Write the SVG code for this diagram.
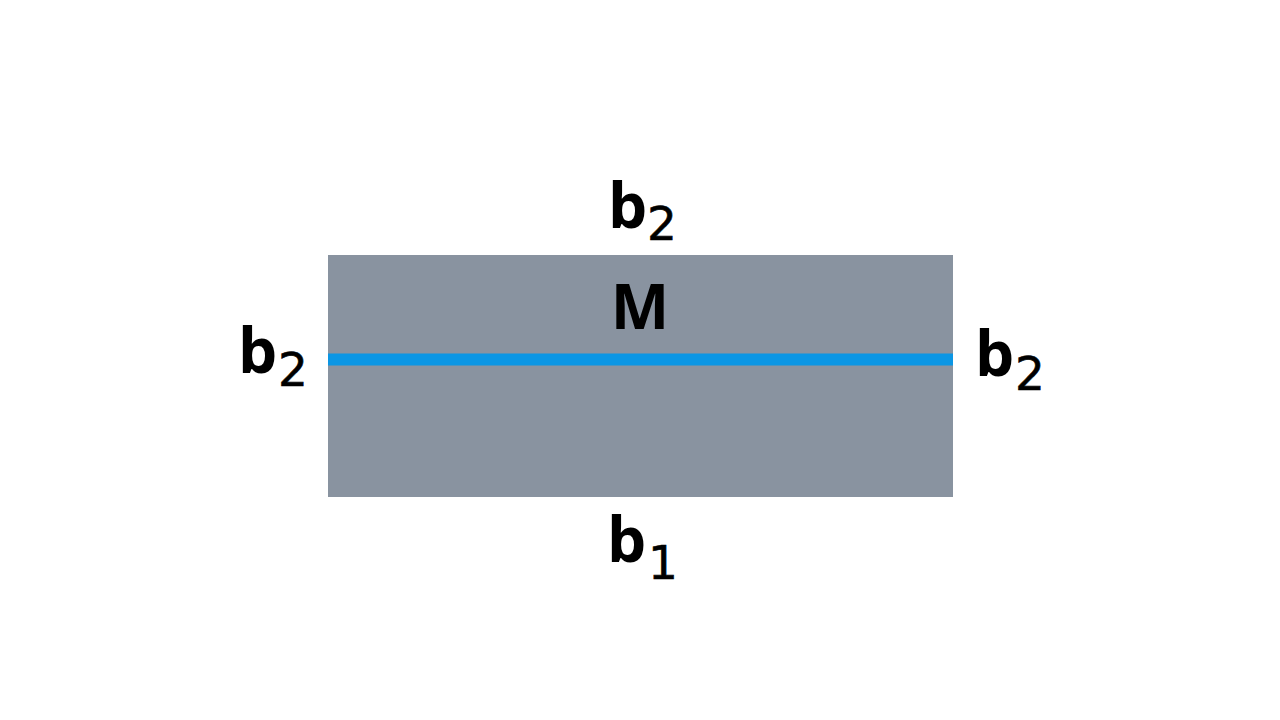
<svg xmlns="http://www.w3.org/2000/svg" width="1280" height="720" viewBox="0 0 1280 720">
<style>
.b{font-family:"Open Sans","DejaVu Sans",sans-serif;font-weight:700;font-size:62px;fill:#000}
.s{font-family:"DejaVu Sans","Open Sans",sans-serif;font-weight:400;font-size:47px;fill:#000;stroke:#000;stroke-width:0.6}
</style>
<rect width="1280" height="720" fill="#fff"/>
<g id="plate">
<rect x="328" y="255" width="625" height="242" fill="#8993a0"/>
<text class="b" x="640" y="329" text-anchor="middle">M</text>
</g>
<g id="connectors">
<line x1="328" y1="359.5" x2="953" y2="359.5" stroke="#0b96e4" stroke-width="12"/>
</g>
<g id="label-top"><text class="b" x="608" y="228">b</text><text class="s" x="647" y="240">2</text></g>
<g id="label-left"><text class="b" x="238" y="373">b</text><text class="s" x="278" y="386">2</text></g>
<g id="label-right"><text class="b" x="975" y="376">b</text><text class="s" x="1015" y="390">2</text></g>
<g id="label-bottom"><text class="b" x="607" y="562">b</text><text class="s" x="648" y="579">1</text></g>
</svg>
